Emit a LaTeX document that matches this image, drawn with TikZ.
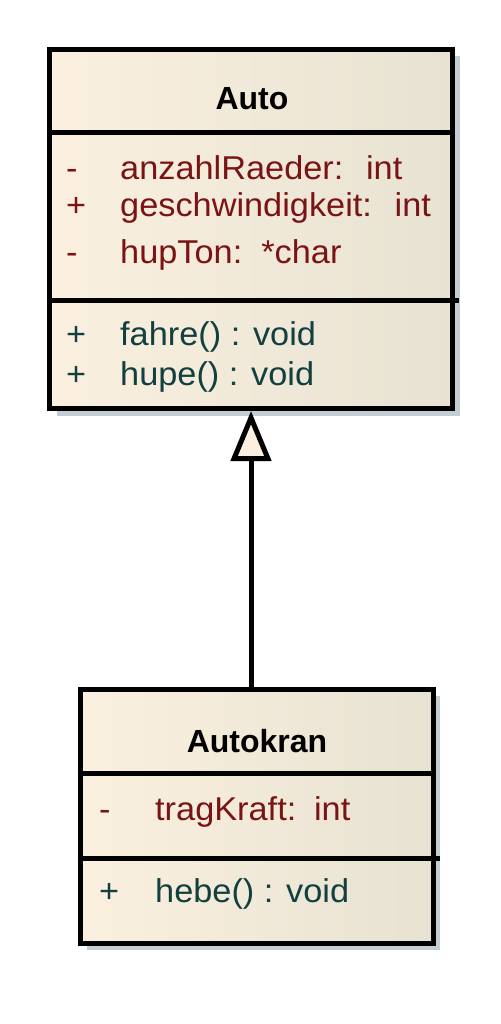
\documentclass[tikz,border=0pt]{standalone}
\usepackage{fontspec}
\usetikzlibrary{arrows.meta}
\newfontfamily\umlreg[FakeStretch=1.04]{Liberation Sans}
\newfontfamily\umltitle{Liberation Sans}
\definecolor{attrred}{HTML}{7A1414}
\definecolor{opteal}{HTML}{123F40}
\definecolor{creamL}{HTML}{FBF0DF}
\definecolor{creamR}{HTML}{E7E2D2}
\definecolor{shadowc}{HTML}{C3CDD4}
\begin{document}
\begin{tikzpicture}[x=1pt,y=-1pt,
  classbox/.style={rectangle, draw=black, line width=5pt, left color=creamL, right color=creamR, inner sep=0pt},
  shadowbox/.style={rectangle, fill=shadowc, draw=none, inner sep=0pt},
  sepline/.style={line width=5pt},
  classtitle/.style={font=\umltitle\bfseries\fontsize{32}{37}\selectfont, anchor=base, inner sep=0pt},
  attr/.style={font=\umlreg\fontsize{33}{38}\selectfont, text=attrred, anchor=base west, inner sep=0pt},
  oper/.style={font=\umlreg\fontsize{33}{38}\selectfont, text=opteal, anchor=base west, inner sep=0pt},
  gen/.style={line width=5pt, line join=round, -{Triangle[open, length=50pt, width=40pt, fill=creamL]}}
]
\useasboundingbox (0,0) rectangle (500,1024);

% ---- Auto ----
\node[shadowbox, minimum width=403pt, minimum height=359pt] (autoshadow) at (258,236) {};
\node[classbox, minimum width=403pt, minimum height=359pt] (auto) at (251,229) {};
\draw[sepline] (auto.west |- 0,133) -- (auto.east |- 0,133);
\draw[sepline, shorten >=-4pt] (auto.west |- 0,300) -- (auto.east |- 0,300);
\node[classtitle] (autotitle) at (252,110) {Auto};
\node[attr] (am1) at (66,180) {-};
\node[attr] (at1) at (120,180) {anzahlRaeder:\hspace{10pt} int};
\node[attr] (am2) at (66,217) {+};
\node[attr] (at2) at (120,217) {geschwindigkeit:\hspace{10pt} int};
\node[attr] (am3) at (66,263) {-};
\node[attr] (at3) at (120,263) {hupTon:\ \ *char};
\node[oper] (om1) at (66,345) {+};
\node[oper] (ot1) at (120,345) {fahre() : void};
\node[oper] (om2) at (66,385) {+};
\node[oper] (ot2) at (120,385) {hupe() : void};

% ---- Autokran ----
\node[shadowbox, minimum width=353pt, minimum height=254pt] (kranshadow) at (263.5,823) {};
\node[classbox, minimum width=353pt, minimum height=254pt] (kran) at (256.5,816) {};
\draw[sepline] (kran.west |- 0,773) -- (kran.east |- 0,773);
\draw[sepline, shorten >=-4pt] (kran.west |- 0,858) -- (kran.east |- 0,858);
\node[classtitle] (krantitle) at (257,752) {Autokran};
\node[attr] (km1) at (99,820) {-};
\node[attr] (kt1) at (155,820) {tragKraft:\hspace{5pt} int};
\node[oper] (ko1) at (99,902) {+};
\node[oper] (kt2) at (155,902) {hebe() : void};

% ---- generalisation ----
\draw[gen] (kran.north -| auto.south) -- (auto.south);
\end{tikzpicture}
\end{document}
